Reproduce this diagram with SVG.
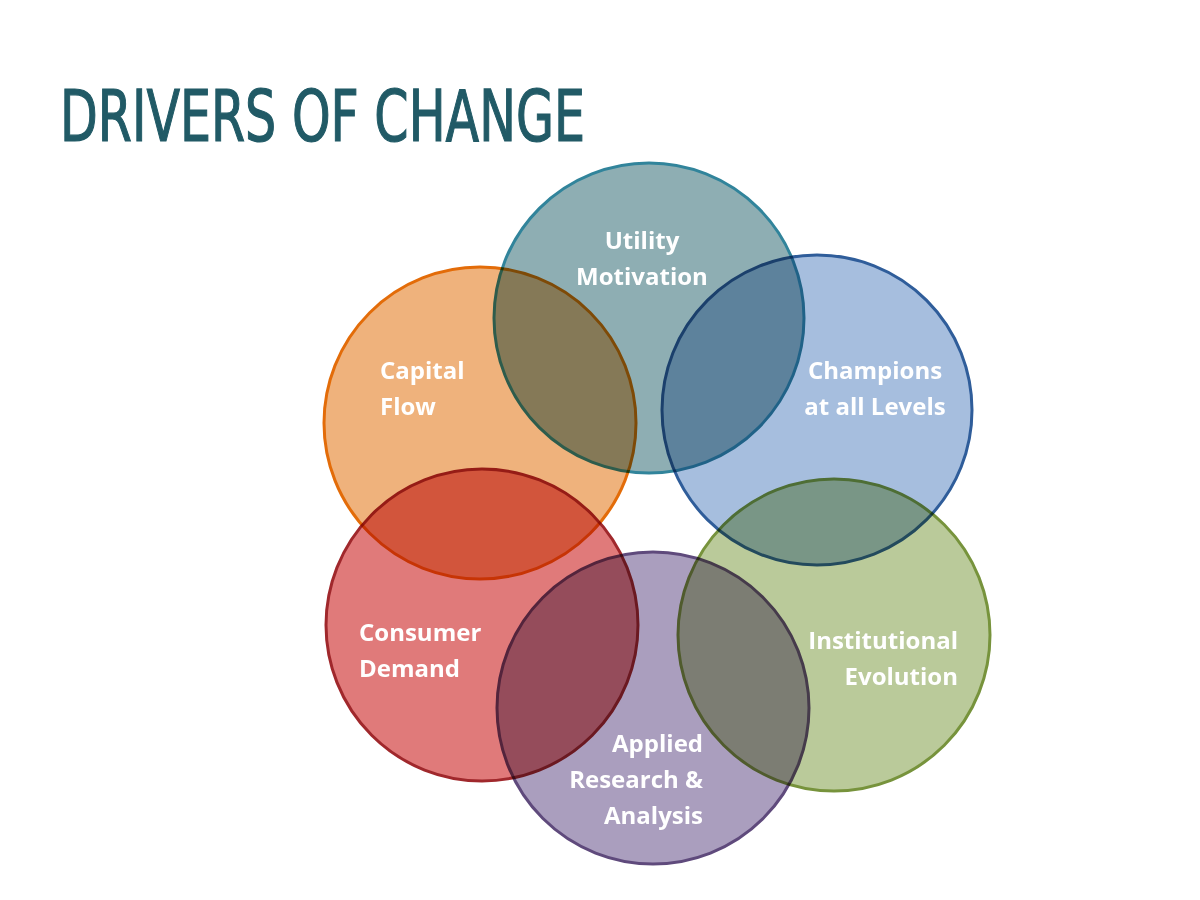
<svg xmlns="http://www.w3.org/2000/svg" width="1200" height="900" viewBox="0 0 1200 900">
<style>
.c{stroke-width:3;mix-blend-mode:multiply}
.t{font-family:"Open Sans","Noto Sans",sans-serif;font-weight:bold;font-size:24px;fill:#fff}
</style>
<rect width="1200" height="900" fill="#fff"/>
<text x="60" y="141" font-family="DejaVu Sans Condensed, DejaVu Sans, sans-serif" font-size="72" fill="#215a66" stroke="#215a66" stroke-width="1.2" textLength="525" lengthAdjust="spacingAndGlyphs">DRIVERS OF CHANGE</text>
<g style="isolation:isolate">
<g id="capital"><circle class="c" cx="480" cy="423" r="156" fill="#efb27c" stroke="#e36c09"/></g>
<g id="consumer"><circle class="c" cx="482" cy="625" r="156" fill="#e07a7a" stroke="#a0282c"/></g>
<g id="utility"><circle class="c" cx="649" cy="318" r="155" fill="#8eaeb3" stroke="#31849b"/></g>
<g id="champions"><circle class="c" cx="817" cy="410" r="155" fill="#a6bede" stroke="#2f5d9a"/></g>
<g id="institutional"><circle class="c" cx="834" cy="635" r="156" fill="#bacA9a" stroke="#77933c"/></g>
<g id="applied"><circle class="c" cx="653" cy="708" r="156" fill="#aa9ebe" stroke="#5f4a7c"/></g>
</g>
<g id="labels">
<text class="t" text-anchor="middle" x="642" y="249">Utility</text>
<text class="t" text-anchor="middle" x="642" y="285">Motivation</text>
<text class="t" x="380" y="379">Capital</text>
<text class="t" x="380" y="415">Flow</text>
<text class="t" text-anchor="middle" x="875" y="379">Champions</text>
<text class="t" text-anchor="middle" x="875" y="415">at all Levels</text>
<text class="t" x="359" y="641">Consumer</text>
<text class="t" x="359" y="677">Demand</text>
<text class="t" text-anchor="end" x="958" y="649">Institutional</text>
<text class="t" text-anchor="end" x="958" y="685">Evolution</text>
<text class="t" text-anchor="end" x="703" y="752">Applied</text>
<text class="t" text-anchor="end" x="703" y="788">Research &amp;</text>
<text class="t" text-anchor="end" x="703" y="824">Analysis</text>
</g>
<g id="connectors"/>
</svg>
